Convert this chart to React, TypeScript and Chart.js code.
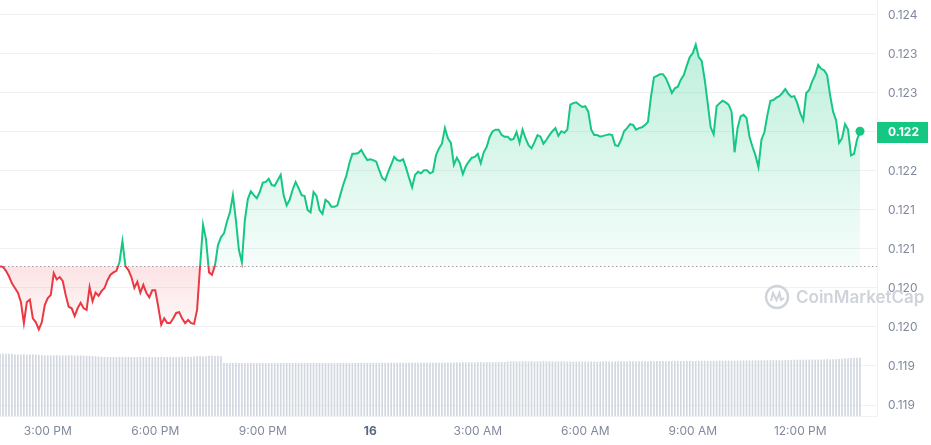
import React, { useEffect, useRef } from 'react';
import { Chart, registerables } from 'chart.js';

Chart.register(...registerables);

// ---- data ----
const START_MINUTE = 820; // 1:40 PM on the 15th, minutes since midnight
const STEP_MINUTES = 5;

const PRICES = [
  0.12078, 0.12077, 0.12072, 0.12065, 0.12056, 0.1205, 0.12044, 0.12032, 0.12005, 0.12032,
  0.12035, 0.12011, 0.12006, 0.11997, 0.12006, 0.12028, 0.12037, 0.12041, 0.12069, 0.12061,
  0.12064, 0.12059, 0.12041, 0.12026, 0.12024, 0.12014, 0.12024, 0.12031, 0.12024, 0.12022,
  0.12051, 0.12033, 0.12044, 0.1204, 0.12046, 0.1205, 0.1206, 0.12067, 0.1207, 0.12072,
  0.12083, 0.1211, 0.12078, 0.12073, 0.12064, 0.1205, 0.12058, 0.12044, 0.12054, 0.12044,
  0.12038, 0.12047, 0.12047, 0.12026, 0.12003, 0.12011, 0.12005, 0.12005, 0.12011, 0.12018,
  0.12019, 0.12011, 0.12005, 0.12009, 0.12005, 0.12004, 0.12022, 0.12078, 0.12131, 0.12112,
  0.1207, 0.12067, 0.12079, 0.12105, 0.12115, 0.1212, 0.12135, 0.12147, 0.12169, 0.12137,
  0.12099, 0.12083, 0.12137, 0.12164, 0.12174, 0.12169, 0.12165, 0.12173, 0.12185, 0.12186,
  0.1219, 0.12182, 0.12181, 0.12188, 0.12195, 0.12169, 0.12156, 0.12163, 0.12176, 0.12186,
  0.12178, 0.12169, 0.12168, 0.1215, 0.12147, 0.12173, 0.12168, 0.1215, 0.12145, 0.12163,
  0.1216, 0.12154, 0.12154, 0.12156, 0.1217, 0.12183, 0.12194, 0.1221, 0.12222, 0.12222,
  0.12223, 0.12227, 0.1222, 0.12214, 0.12215, 0.12214, 0.12212, 0.12201, 0.12191, 0.12188,
  0.12199, 0.12208, 0.12218, 0.12214, 0.12213, 0.12215, 0.12204, 0.12191, 0.12179, 0.12195,
  0.12199, 0.12197, 0.12201, 0.12201, 0.12197, 0.12199, 0.1222, 0.12229, 0.12235, 0.12255,
  0.12242, 0.12236, 0.12208, 0.12217, 0.1221, 0.12196, 0.12206, 0.12212, 0.12217, 0.12218,
  0.12222, 0.1221, 0.12224, 0.12231, 0.12244, 0.12251, 0.12253, 0.12253, 0.12246, 0.12244,
  0.12244, 0.1224, 0.12241, 0.1225, 0.12236, 0.12253, 0.12242, 0.12233, 0.12229, 0.12237,
  0.12246, 0.12244, 0.12235, 0.1224, 0.12246, 0.12251, 0.12255, 0.12245, 0.12251, 0.12249,
  0.12253, 0.12285, 0.12287, 0.12288, 0.12285, 0.12282, 0.12283, 0.12276, 0.12253, 0.12246,
  0.12246, 0.12244, 0.12245, 0.12246, 0.12247, 0.12246, 0.12233, 0.12232, 0.1224, 0.12251,
  0.12255, 0.1226, 0.12259, 0.12253, 0.12255, 0.12256, 0.12259, 0.12263, 0.12295, 0.1232,
  0.12322, 0.12324, 0.12324, 0.12319, 0.1231, 0.123, 0.12306, 0.12308, 0.12317, 0.12323,
  0.12335, 0.12346, 0.12351, 0.12362, 0.12346, 0.12341, 0.12317, 0.12287, 0.12256, 0.12247,
  0.12283, 0.12287, 0.1229, 0.12288, 0.12285, 0.12276, 0.12224, 0.12255, 0.1227, 0.12272,
  0.12268, 0.12244, 0.12231, 0.1222, 0.12205, 0.1224, 0.1225, 0.12272, 0.1229, 0.12291,
  0.12294, 0.12296, 0.123, 0.12305, 0.12299, 0.12295, 0.12296, 0.12287, 0.12274, 0.12265,
  0.123, 0.12304, 0.12315, 0.12323, 0.12336, 0.12331, 0.12329, 0.12323, 0.12297, 0.12276,
  0.12265, 0.12236, 0.12242, 0.1226, 0.12253, 0.1222, 0.12222, 0.1224, 0.12251,
];

const VOLUMES = [
  77.5, 77.6, 77.4, 77.5, 77.3,
  76.6, 76.4, 76.5, 76.7, 76.3, 76.5, 76.4, 76.2, 76.0,
  75.6, 75.4, 75.5, 75.3, 75.4, 75.6, 75.2, 75.4, 75.3, 75.5,
  75.4, 75.1, 75.3, 75.4, 75.2, 75.0, 74.8, 74.6, 74.3, 74.0,
  73.6, 73.4, 73.5, 73.3, 73.4, 73.2, 73.5, 73.4, 73.3, 73.6,
  73.4, 73.2, 73.3, 73.5, 73.4, 73.3, 73.4, 73.2, 73.5, 73.4,
  73.6, 73.3, 73.4, 73.5, 73.2, 73.4, 73.3, 73.5, 73.4, 73.6, 73.8,
  74.0, 74.2, 74.6, 74.1, 74.3, 74.8, 75.0, 74.6, 74.9, 74.4,
  66.0, 65.9, 65.8, 65.9, 66.0, 65.8, 65.9, 65.7, 65.8, 65.9,
  65.8, 65.7, 65.9, 65.8, 65.6, 65.7, 65.8, 65.9, 65.7, 65.8,
  65.9, 66.0, 65.9, 65.8, 65.9, 66.0, 66.1, 65.9, 66.0, 65.9,
  65.8, 65.9, 66.0, 65.9, 65.8, 65.9, 65.8, 65.7, 65.8, 65.9,
  66.0, 66.1, 66.0, 65.9, 66.0, 66.1, 66.2, 66.1, 66.0, 66.1,
  66.2, 66.1, 66.0, 66.2, 66.1, 66.2, 66.3, 66.2, 66.1, 66.2,
  66.3, 66.2, 66.3, 66.4, 66.3, 66.2, 66.3, 66.4, 66.3, 66.2,
  66.3, 66.4, 66.3, 66.4, 66.5, 66.4, 66.3, 66.4, 66.5,
  66.6, 66.7, 66.6, 66.8, 66.7, 66.6, 66.8, 66.9, 66.7, 66.8, 66.9, 67.0, 66.8, 66.9, 67.0, 67.1,
  67.6, 67.8, 67.9, 67.7, 67.8, 68.0, 67.9, 67.8, 67.9, 67.7,
  67.8, 67.9, 68.0, 67.8, 67.9, 67.8, 67.7, 67.8, 67.9, 67.8,
  67.7, 67.8, 67.6, 67.7, 67.8, 67.7, 67.6, 67.7, 67.8, 67.7,
  67.6, 67.7, 67.8, 67.9, 67.8, 67.7, 67.8, 67.9, 68.0, 67.9,
  67.8, 67.9, 68.0, 68.1, 68.0, 67.9, 68.0, 68.1, 68.2, 68.1,
  68.2, 68.3, 68.2, 68.1, 68.2, 68.3, 68.4, 68.3, 68.2, 68.3,
  68.4, 68.5, 68.4, 68.3, 68.4, 68.5, 68.6, 68.5, 68.4, 68.5,
  68.6, 68.7, 68.6, 68.7, 68.8, 68.7, 68.8, 68.9, 68.8, 68.9, 69.0,
  69.1, 69.0, 69.2, 69.1, 69.3, 69.2, 69.1, 69.3, 69.4, 69.2, 69.3, 69.4, 69.5, 69.4, 69.6,
  69.9, 70.0, 70.1, 69.9, 70.0, 70.2, 70.1, 70.0, 70.2, 70.3, 70.2, 70.4, 70.3, 70.5, 70.6, 70.8, 71.0,
  71.6, 71.9, 72.1, 72.0, 72.3, 72.4,
];

const TIMES = PRICES.map((_, i) => START_MINUTE + i * STEP_MINUTES);

const OPEN_PRICE = 0.12078;
const CURRENT_PRICE_LABEL = '0.122';

const X_TICK_MINUTES = [900, 1080, 1260, 1440, 1620, 1800, 1980, 2160];
const X_TICK_LABELS = ['3:00 PM', '6:00 PM', '9:00 PM', '16', '3:00 AM', '6:00 AM', '9:00 AM', '12:00 PM'];
const Y_TICKS = [0.119, 0.1195, 0.12, 0.1205, 0.121, 0.1215, 0.122, 0.1225, 0.123, 0.1235, 0.124];

const X_MIN = 820;
const X_MAX = 2288.5;
const Y_MIN = 0.118859;
const Y_MAX = 0.124192;
const VOL_MAX = 520;

// ---- style ----
const GREEN = '#16c784';
const RED = '#ea3943';
const GRID = '#eff2f5';
const LABEL = '#808a9d';
const FONT = 'Inter, "Noto Sans", sans-serif';

const decorPlugin = {
  id: 'decor',
  beforeDatasetsDraw(chart: any) {
    const { ctx, chartArea } = chart;
    const baseY = chart.scales.y.getPixelForValue(OPEN_PRICE);
    ctx.save();
    // watermark
    const cx = chartArea.right - 100;
    const cy = 297;
    ctx.strokeStyle = '#cfd3da';
    ctx.lineWidth = 2.4;
    ctx.beginPath();
    ctx.arc(cx, cy, 11, 0, Math.PI * 2);
    ctx.stroke();
    ctx.lineWidth = 2;
    ctx.beginPath();
    ctx.moveTo(cx - 6, cy + 4);
    ctx.lineTo(cx - 4, cy - 4);
    ctx.lineTo(cx - 0.5, cy + 3);
    ctx.lineTo(cx + 2.5, cy - 4);
    ctx.lineTo(cx + 4, cy + 3);
    ctx.lineTo(cx + 7, cy + 1);
    ctx.stroke();
    ctx.fillStyle = '#cfd3da';
    ctx.font = `600 17px ${FONT}`;
    ctx.textBaseline = 'middle';
    ctx.textAlign = 'left';
    ctx.fillText('CoinMarketCap', cx + 19, cy + 1);
    // open price dotted line
    ctx.strokeStyle = '#9aa0ab';
    ctx.lineWidth = 1;
    ctx.setLineDash([1.5, 2.5]);
    ctx.beginPath();
    ctx.moveTo(chartArea.left, Math.round(baseY) + 0.5);
    ctx.lineTo(chartArea.right, Math.round(baseY) + 0.5);
    ctx.stroke();
    ctx.restore();
  },
  afterDraw(chart: any) {
    const { ctx, chartArea } = chart;
    const y = chart.scales.y.getPixelForValue(PRICES[PRICES.length - 1]);
    ctx.save();
    ctx.fillStyle = GREEN;
    ctx.fillRect(chartArea.right, Math.round(y) - 9, 51, 21);
    ctx.fillStyle = '#ffffff';
    ctx.font = `bold 12px ${FONT}`;
    ctx.textBaseline = 'middle';
    ctx.textAlign = 'left';
    ctx.fillText(CURRENT_PRICE_LABEL, chartArea.right + 11, Math.round(y) + 1.5);
    ctx.restore();
  },
};

export default function App() {
  const canvasRef = useRef<HTMLCanvasElement | null>(null);

  useEffect(() => {
    const canvas = canvasRef.current;
    if (!canvas) return;
    const chart = new Chart(canvas, {
      type: 'line',
      data: {
        labels: TIMES,
        datasets: [
          {
            type: 'line',
            data: PRICES,
            yAxisID: 'y',
            borderColor: GREEN,
            borderWidth: 2,
            tension: 0,
            pointRadius: (c: any) => (c.dataIndex === PRICES.length - 1 ? 4.5 : 0),
            pointHoverRadius: 0,
            pointBackgroundColor: GREEN,
            pointBorderWidth: 0,
            fill: { target: { value: OPEN_PRICE }, above: 'rgba(22,199,132,0.12)', below: 'rgba(234,57,67,0.08)' },
            order: 1,
          } as any,
          {
            type: 'bar',
            data: VOLUMES,
            yAxisID: 'yv',
            backgroundColor: '#d2d7e0',
            borderWidth: 0,
            barThickness: 1,
            order: 2,
          } as any,
        ],
      },
      options: {
        responsive: false,
        maintainAspectRatio: false,
        animation: false,
        layout: { padding: 0, autoPadding: false },
        plugins: { legend: { display: false }, tooltip: { enabled: false } },
        scales: {
          x: {
            type: 'linear',
            min: X_MIN,
            max: X_MAX,
            offset: false,
            grid: { display: false, drawTicks: false },
            border: { display: true, color: GRID },
            afterBuildTicks: (s: any) => {
              s.ticks = X_TICK_MINUTES.map((v) => ({ value: v }));
            },
            afterFit: (s: any) => {
              s.height = 29;
              s.paddingLeft = 0;
              s.paddingRight = 0;
              s.paddingTop = 0;
              s.paddingBottom = 0;
            },
            ticks: {
              autoSkip: false,
              maxRotation: 0,
              padding: 8,
              callback: (v: any) => X_TICK_LABELS[X_TICK_MINUTES.indexOf(Number(v))] ?? '',
              font: (c: any) => {
                const lbl = String(c.tick?.label ?? '');
                return { family: FONT, size: 12, weight: lbl.indexOf(':') < 0 ? 'bold' : 'normal' };
              },
              color: (c: any) => (String(c.tick?.label ?? '').indexOf(':') < 0 ? '#58667e' : LABEL),
            },
          },
          y: {
            position: 'right',
            min: Y_MIN,
            max: Y_MAX,
            grid: { color: GRID, drawTicks: false },
            border: { display: true, color: GRID },
            afterBuildTicks: (s: any) => {
              s.ticks = Y_TICKS.map((v) => ({ value: v }));
            },
            afterFit: (s: any) => {
              s.width = 54;
              s.paddingLeft = 0;
              s.paddingRight = 0;
              s.paddingTop = 0;
              s.paddingBottom = 0;
            },
            ticks: {
              padding: 11,
              color: LABEL,
              font: { family: FONT, size: 12 },
              callback: (v: any) => (Math.floor(Number(v) * 1000 + 1e-6) / 1000).toFixed(3),
            },
          },
          yv: {
            display: false,
            min: 0,
            max: VOL_MAX,
          },
        },
      } as any,
      plugins: [decorPlugin],
    });

    // gradients depend on the laid-out chart area
    const { ctx, chartArea } = chart as any;
    const ys = (chart as any).scales.y;
    const baseY = ys.getPixelForValue(OPEN_PRICE);
    const topY = ys.getPixelForValue(Math.max(...PRICES));
    const botY = ys.getPixelForValue(Math.min(...PRICES));
    const ratio = Math.min(1, Math.max(0, (baseY - chartArea.top) / (chartArea.bottom - chartArea.top)));
    const stroke = ctx.createLinearGradient(0, chartArea.top, 0, chartArea.bottom);
    stroke.addColorStop(0, GREEN);
    stroke.addColorStop(ratio, GREEN);
    stroke.addColorStop(ratio, RED);
    stroke.addColorStop(1, RED);
    const above = ctx.createLinearGradient(0, topY, 0, baseY);
    above.addColorStop(0, 'rgba(22,199,132,0.28)');
    above.addColorStop(1, 'rgba(22,199,132,0.04)');
    const below = ctx.createLinearGradient(0, baseY, 0, botY);
    below.addColorStop(0, 'rgba(234,57,67,0.14)');
    below.addColorStop(1, 'rgba(234,57,67,0.03)');
    const ds: any = chart.data.datasets[0];
    ds.borderColor = stroke;
    ds.fill = { target: { value: OPEN_PRICE }, above, below };
    chart.update('none');

    return () => chart.destroy();
  }, []);

  return (
    <div style={{ position: 'absolute', left: 0, top: 0, width: 931, height: 445, background: '#fff' }}>
      <canvas ref={canvasRef} width={931} height={445} style={{ display: 'block' }} />
    </div>
  );
}
